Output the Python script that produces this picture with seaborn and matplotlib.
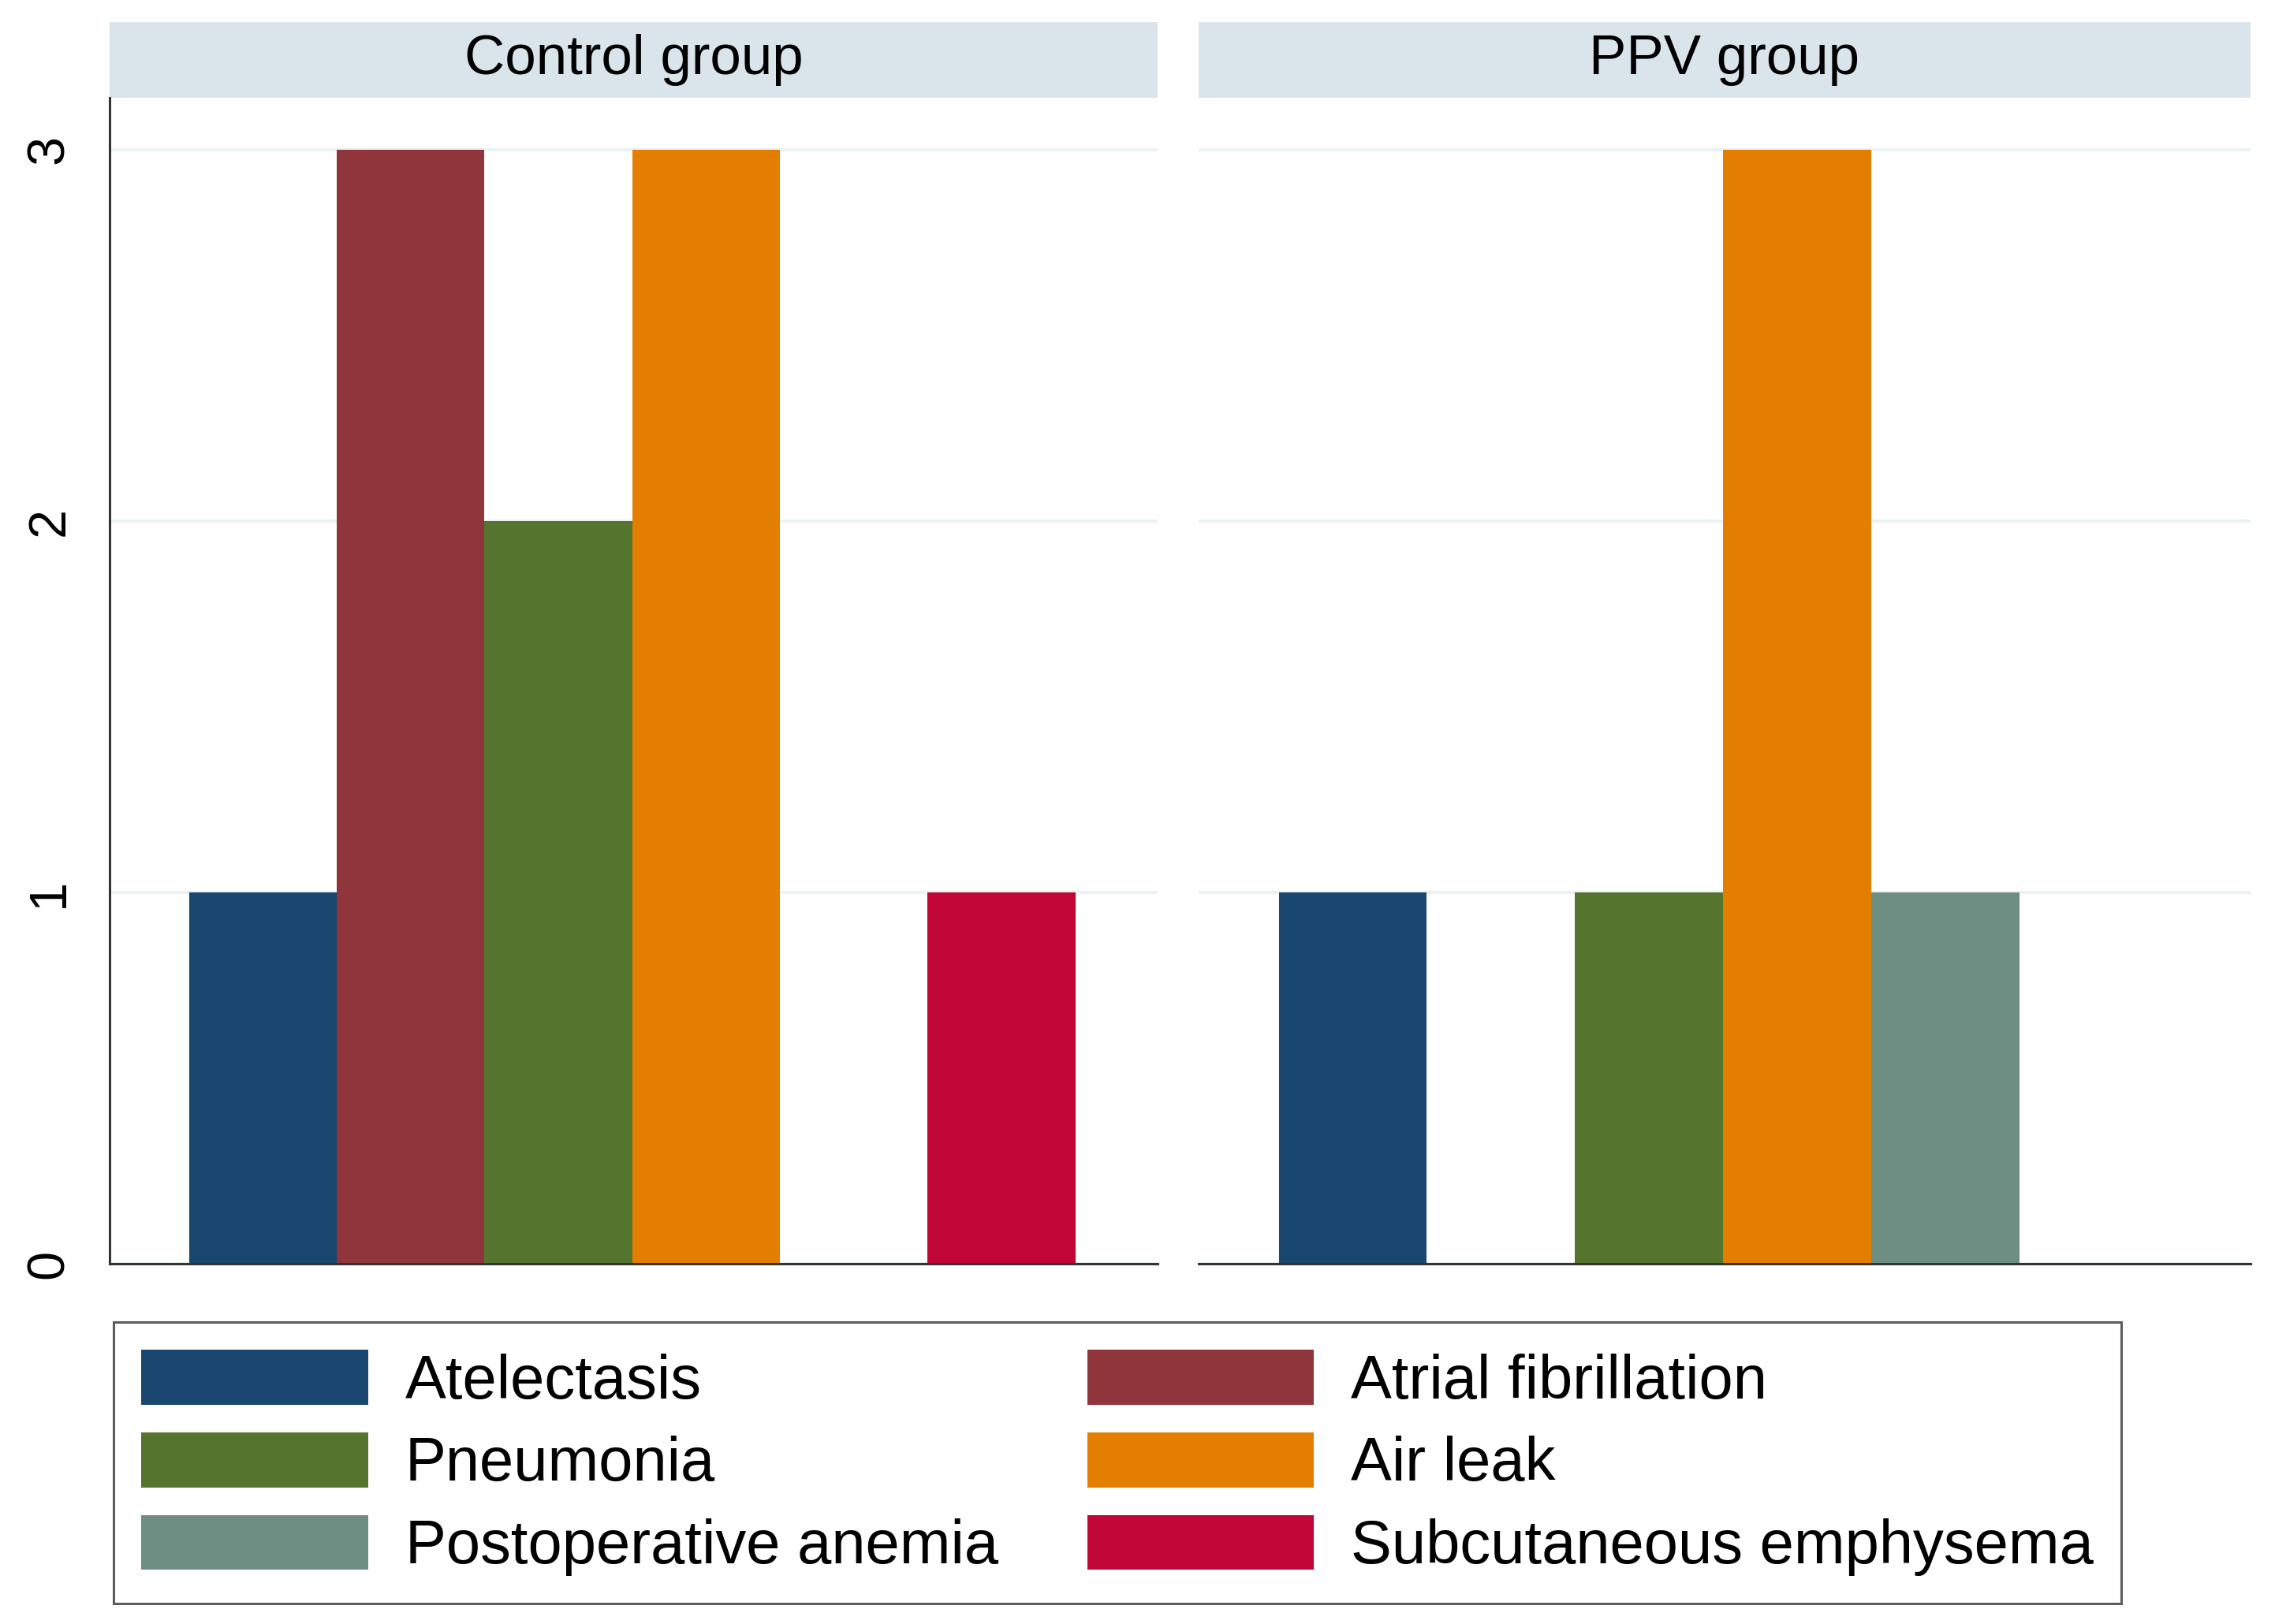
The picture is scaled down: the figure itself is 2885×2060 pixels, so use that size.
import matplotlib
matplotlib.use('Agg')
import matplotlib.pyplot as plt
from matplotlib.patches import Rectangle, Patch
import pandas as pd
import seaborn as sns

# Data
complications = ['Atelectasis', 'Atrial fibrillation', 'Pneumonia', 'Air leak',
                 'Postoperative anemia', 'Subcutaneous emphysema']
control_counts = [1, 3, 2, 3, 0, 1]
ppv_counts = [1, 0, 1, 3, 1, 0]
groups = ['Control group', 'PPV group']
colors = ['#1a476f', '#90353b', '#55752f', '#e37e00', '#6e8e84', '#c10534']
yticks = [0, 1, 2, 3]

df = pd.DataFrame({
    'group': [groups[0]] * 6 + [groups[1]] * 6,
    'complication': complications * 2,
    'count': control_counts + ppv_counts,
})

sns.set_style('white')
plt.rcParams['font.family'] = ['Liberation Sans', 'DejaVu Sans']
plt.rcParams['text.color'] = 'black'
plt.rcParams['ytick.color'] = '#333333'
plt.rcParams['ytick.labelcolor'] = 'black'
palette = dict(zip(complications, colors))

fig = plt.figure(figsize=(28.85, 20.6), dpi=100)
W, H = 1560, 1114
ax_left = fig.add_axes([75 / W, 247 / H, 719 / W, 800 / H])
ax_right = fig.add_axes([822 / W, 247 / H, 721 / W, 800 / H])

for ax, grp in zip([ax_left, ax_right], groups):
    sub = df[df['group'] == grp]
    sns.barplot(data=sub, x='complication', y='count', hue='complication',
                order=complications, hue_order=complications, palette=palette,
                saturation=1, width=1.0, linewidth=0, legend=False, ax=ax)
    ax.set_xlim(-1.04, 6.06)
    ax.set_ylim(0, 3.14)
    ax.set_xlabel('')
    ax.set_ylabel('')
    ax.set_xticks([])
    ax.set_yticks(yticks)
    ax.grid(axis='y', color='#eaf2f3', linewidth=3)
    ax.set_axisbelow(True)
    for s in ['top', 'right']:
        ax.spines[s].set_visible(False)
    ax.spines['bottom'].set_color('#333333')
    ax.spines['bottom'].set_linewidth(2.2)
    # facet strip
    ax.add_patch(Rectangle((0, 1.0), 1, 52 / 800, transform=ax.transAxes,
                           facecolor='#d9e4eb', edgecolor='none', clip_on=False))
    ax.text(0.5, 1.0 + 26 / 800, grp, transform=ax.transAxes, ha='center',
            va='center', fontsize=51, color='black')

ax_left.spines['left'].set_color('#333333')
ax_left.spines['left'].set_linewidth(2.2)
ax_left.tick_params(axis='y', length=18, width=2, labelsize=48,
                    pad=14, labelrotation=90)
for lab in ax_left.get_yticklabels():
    lab.set_va('center')
ax_right.spines['left'].set_visible(False)
ax_right.tick_params(axis='y', length=0, labelleft=False)

# legend filled row by row like the original
leg_order = [0, 2, 4, 1, 3, 5]
handles = [Patch(facecolor=colors[i], edgecolor='none') for i in leg_order]
labels = [complications[i] for i in leg_order]
leg = fig.legend(handles, labels, ncol=2, fontsize=56,
                 loc='lower left', bbox_to_anchor=(78 / W, 14 / H),
                 frameon=True, fancybox=False, edgecolor='#333333',
                 handlelength=3.7, handleheight=1.0, handletextpad=0.6,
                 labelspacing=0.35, borderpad=0.45, columnspacing=1.45,
                 borderaxespad=0)
leg.get_frame().set_linewidth(2.2)

fig.savefig('out.png', dpi=100, facecolor='white')
